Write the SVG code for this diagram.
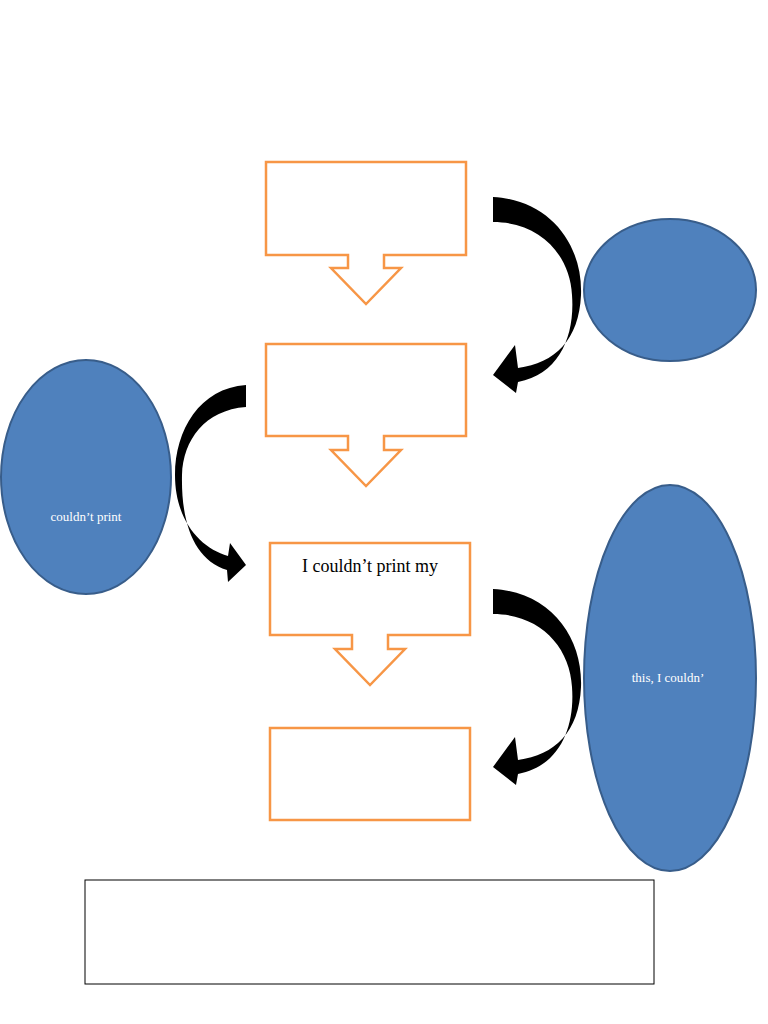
<svg xmlns="http://www.w3.org/2000/svg" width="768" height="1024" viewBox="0 0 768 1024">
<style>
.co{fill:#fff;stroke:#f79646;stroke-width:2.5}
.el{fill:#4f81bd;stroke:#385d8a;stroke-width:2}
.ar{fill:#000}
.t{font-family:"Liberation Serif",serif}
</style>
<rect width="768" height="1024" fill="#fff"/>
<g id="c1"><path class="co" d="M266,162 H466 V255 H384 V268 H401 L366,304 L331,268 H348 V255 H266 Z"/></g>
<g id="c2"><path class="co" d="M266,344 H466 V436 H384 V450 H401 L366,486 L331,450 H348 V436 H266 Z"/></g>
<g id="c3"><path class="co" d="M270,543 H470 V635 H388 V649 H405 L370,685 L335,649 H352 V635 H270 Z"/>
<text class="t" x="370" y="572" font-size="18" text-anchor="middle">I couldn’t print my</text></g>
<g id="c4"><rect class="co" x="270" y="728" width="200" height="92"/></g>
<g id="e1"><ellipse class="el" cx="670" cy="290" rx="86" ry="71"/></g>
<g id="e2"><ellipse class="el" cx="86" cy="477" rx="85" ry="117"/>
<text class="t" x="86" y="521" font-size="13" fill="#fff" text-anchor="middle">couldn’t print</text></g>
<g id="e3"><ellipse class="el" cx="670" cy="678" rx="86" ry="193"/>
<text class="t" x="668" y="682" font-size="13" fill="#fff" text-anchor="middle">this, I couldn’</text></g>
<g id="bottom"><rect x="85" y="880" width="569" height="104" fill="#fff" stroke="#000" stroke-width="1"/></g>
<g id="connectors">
<path class="ar" d="M493,197 C550,200 583,245 581,295 C579,340 555,363 518,368 L515,345 L493,375 L516,393 L518,382 C560,374 575,335 572,295 C570,255 540,222 493,222 Z"/>
<path class="ar" transform="translate(0,392)" d="M493,197 C550,200 583,245 581,295 C579,340 555,363 518,368 L515,345 L493,375 L516,393 L518,382 C560,374 575,335 572,295 C570,255 540,222 493,222 Z"/>
<path class="ar" d="M246,385 C200,388 175,430 175,475 C175,520 200,548 228,556 L230,543 L246,565 L228,582 L227,570 C195,560 181,525 182,475 C183,440 205,410 246,407 Z"/>
</g>
</svg>
